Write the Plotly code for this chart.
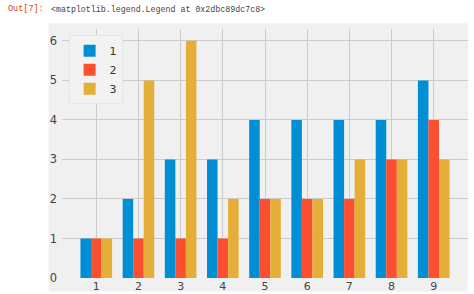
import plotly.graph_objects as go

categories = [1, 2, 3, 4, 5, 6, 7, 8, 9]
series_1 = [1, 2, 3, 3, 4, 4, 4, 4, 5]
series_2 = [1, 1, 1, 1, 2, 2, 2, 3, 4]
series_3 = [1, 5, 6, 2, 2, 2, 3, 3, 3]
series_names = ["1", "2", "3"]
colors = ["#008fd5", "#fc4f30", "#e5ae38"]
y_ticks = [0, 1, 2, 3, 4, 5, 6]

W, H = 474, 294
L, R, T, B = 62.4, 5.7, 28.8, 15.5
pw, ph = W - L - R, H - T - B

fig = go.Figure()
for name, vals, col in zip(series_names, [series_1, series_2, series_3], colors):
    fig.add_trace(go.Bar(x=categories, y=vals, name=name, marker=dict(color=col, line=dict(width=0)),
                         width=0.25))

def px_x(p):
    return (p - L) / pw

def px_y(p):
    return 1 - (p - T) / ph

fig.add_shape(type="rect", xref="paper", yref="paper",
              x0=px_x(49), x1=px_x(468), y0=px_y(292), y1=px_y(23),
              fillcolor="#f0f0f0", line=dict(width=0), layer="below")

fig.add_annotation(text="Out[7]:", xref="paper", yref="paper", x=px_x(6), y=px_y(9),
                   xanchor="left", yanchor="middle", showarrow=False,
                   font=dict(family="Liberation Mono, DejaVu Sans Mono", size=8.5, color="#d84315"))
fig.add_annotation(text="&lt;matplotlib.legend.Legend at 0x2dbc89dc7c8&gt;", xref="paper", yref="paper",
                   x=px_x(49), y=px_y(9), xanchor="left", yanchor="middle", showarrow=False,
                   font=dict(family="Liberation Mono, DejaVu Sans Mono", size=8.3, color="#444444"))

fig.update_layout(
    width=W, height=H,
    margin=dict(l=L, r=R, t=T, b=B, pad=0, autoexpand=False),
    paper_bgcolor="white",
    plot_bgcolor="#f0f0f0",
    barmode="group",
    bargap=0.25,
    bargroupgap=0,
    font=dict(family="DejaVu Sans", size=11, color="#444444"),
    showlegend=True,
    legend=dict(x=px_x(69), y=px_y(35), xanchor="left", yanchor="top",
                bgcolor="#f2f2f2", bordercolor="#e6e6e6", borderwidth=1,
                font=dict(size=11, color="#333333"), itemwidth=30,
                tracegroupgap=0),
    xaxis=dict(range=[0.1875, 9.8125], tickmode="array", tickvals=categories,
               ticktext=[str(c) for c in categories], automargin=False,
               showgrid=True, gridcolor="#cbcbcb", gridwidth=1, zeroline=False,
               ticks="", showline=False, ticklabelstandoff=0, tickfont=dict(size=11)),
    yaxis=dict(range=[0, 6.3], tickmode="array", tickvals=y_ticks, automargin=False,
               showgrid=True, gridcolor="#cbcbcb", gridwidth=1, zeroline=False,
               ticks="", showline=False, ticklabelstandoff=4, tickfont=dict(size=11.5)),
)

fig.write_html("out.html")
